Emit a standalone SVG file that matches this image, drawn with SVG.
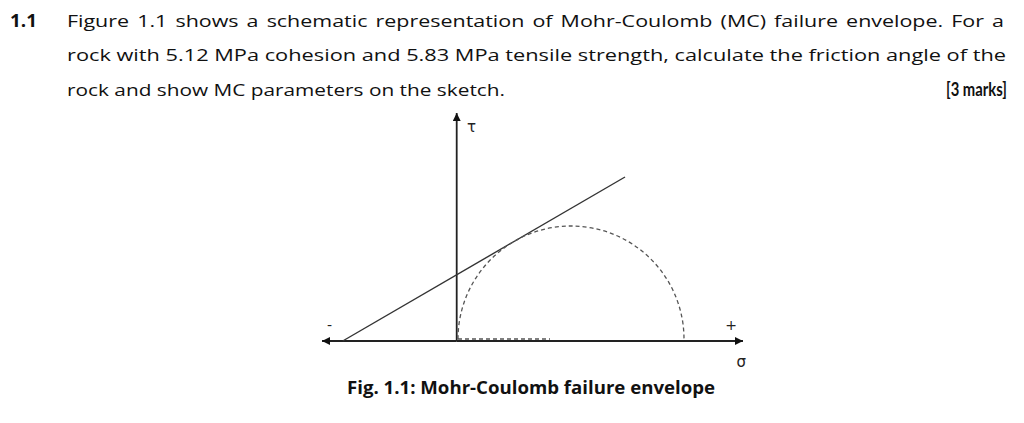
<svg xmlns="http://www.w3.org/2000/svg" width="1024" height="423" viewBox="0 0 1024 423">
<style>
.t{font-family:"Open Sans","Liberation Sans",sans-serif;font-size:17px;fill:#111}
.b{font-weight:bold}
.n{font-family:Lato,"Liberation Sans",sans-serif;font-size:18px;font-weight:bold;fill:#111}
.s{font-family:"DejaVu Sans","Liberation Sans",sans-serif;fill:#222}
.ax{stroke:#222;stroke-width:1.8;fill:none}
.dash{stroke:#555;stroke-width:1.3;fill:none;stroke-dasharray:4 3}
</style>
<defs>
<marker id="ah" viewBox="0 0 10 10" refX="10" refY="5" markerWidth="10" markerHeight="8" markerUnits="userSpaceOnUse" orient="auto">
<path d="M0,0 L10,5 L0,10 z" fill="#111"/>
</marker>
</defs>
<rect width="1024" height="423" fill="#fff"/>
<g id="question">
<text class="t b" x="10" y="27" textLength="27" lengthAdjust="spacingAndGlyphs">1.1</text>
<text class="t" x="67" y="27" textLength="937" lengthAdjust="spacingAndGlyphs" word-spacing="2">Figure 1.1 shows a schematic representation of Mohr-Coulomb (MC) failure envelope. For a</text>
<text class="t" x="67" y="61" textLength="939" lengthAdjust="spacingAndGlyphs">rock with 5.12 MPa cohesion and 5.83 MPa tensile strength, calculate the friction angle of the</text>
<text class="t" x="67" y="96" textLength="438" lengthAdjust="spacingAndGlyphs">rock and show MC parameters on the sketch.</text>
<text class="n" x="946" y="96" textLength="61" lengthAdjust="spacingAndGlyphs">[3 marks]</text>
</g>
<g id="connectors">
<line id="tau-axis" class="ax" x1="456.7" y1="341" x2="456.7" y2="113" marker-end="url(#ah)"/>
<line id="sigma-axis-pos" class="ax" x1="456.7" y1="341" x2="743" y2="341" marker-end="url(#ah)"/>
<line id="sigma-axis-neg" class="ax" x1="456.7" y1="341" x2="322" y2="341" marker-end="url(#ah)"/>
<line id="envelope" x1="342.7" y1="341" x2="625" y2="177" stroke="#333" stroke-width="1.4"/>
</g>
<g id="mohr-circle">
<path class="dash" d="M458,339 A113,113 0 0 1 684,339"/>
<line class="dash" x1="458" y1="339" x2="550" y2="339" stroke="#999"/>
</g>
<g id="labels">
<text class="s" x="467" y="132" font-size="15">τ</text>
<text class="s" x="736.5" y="367" font-size="15">σ</text>
<text class="s" x="731" y="330" font-size="14" text-anchor="middle">+</text>
<text class="s" x="329.5" y="330" font-size="14" text-anchor="middle">-</text>
</g>
<g id="caption">
<text class="t b" x="347" y="394" textLength="368" lengthAdjust="spacingAndGlyphs">Fig. 1.1: Mohr-Coulomb failure envelope</text>
</g>
</svg>
